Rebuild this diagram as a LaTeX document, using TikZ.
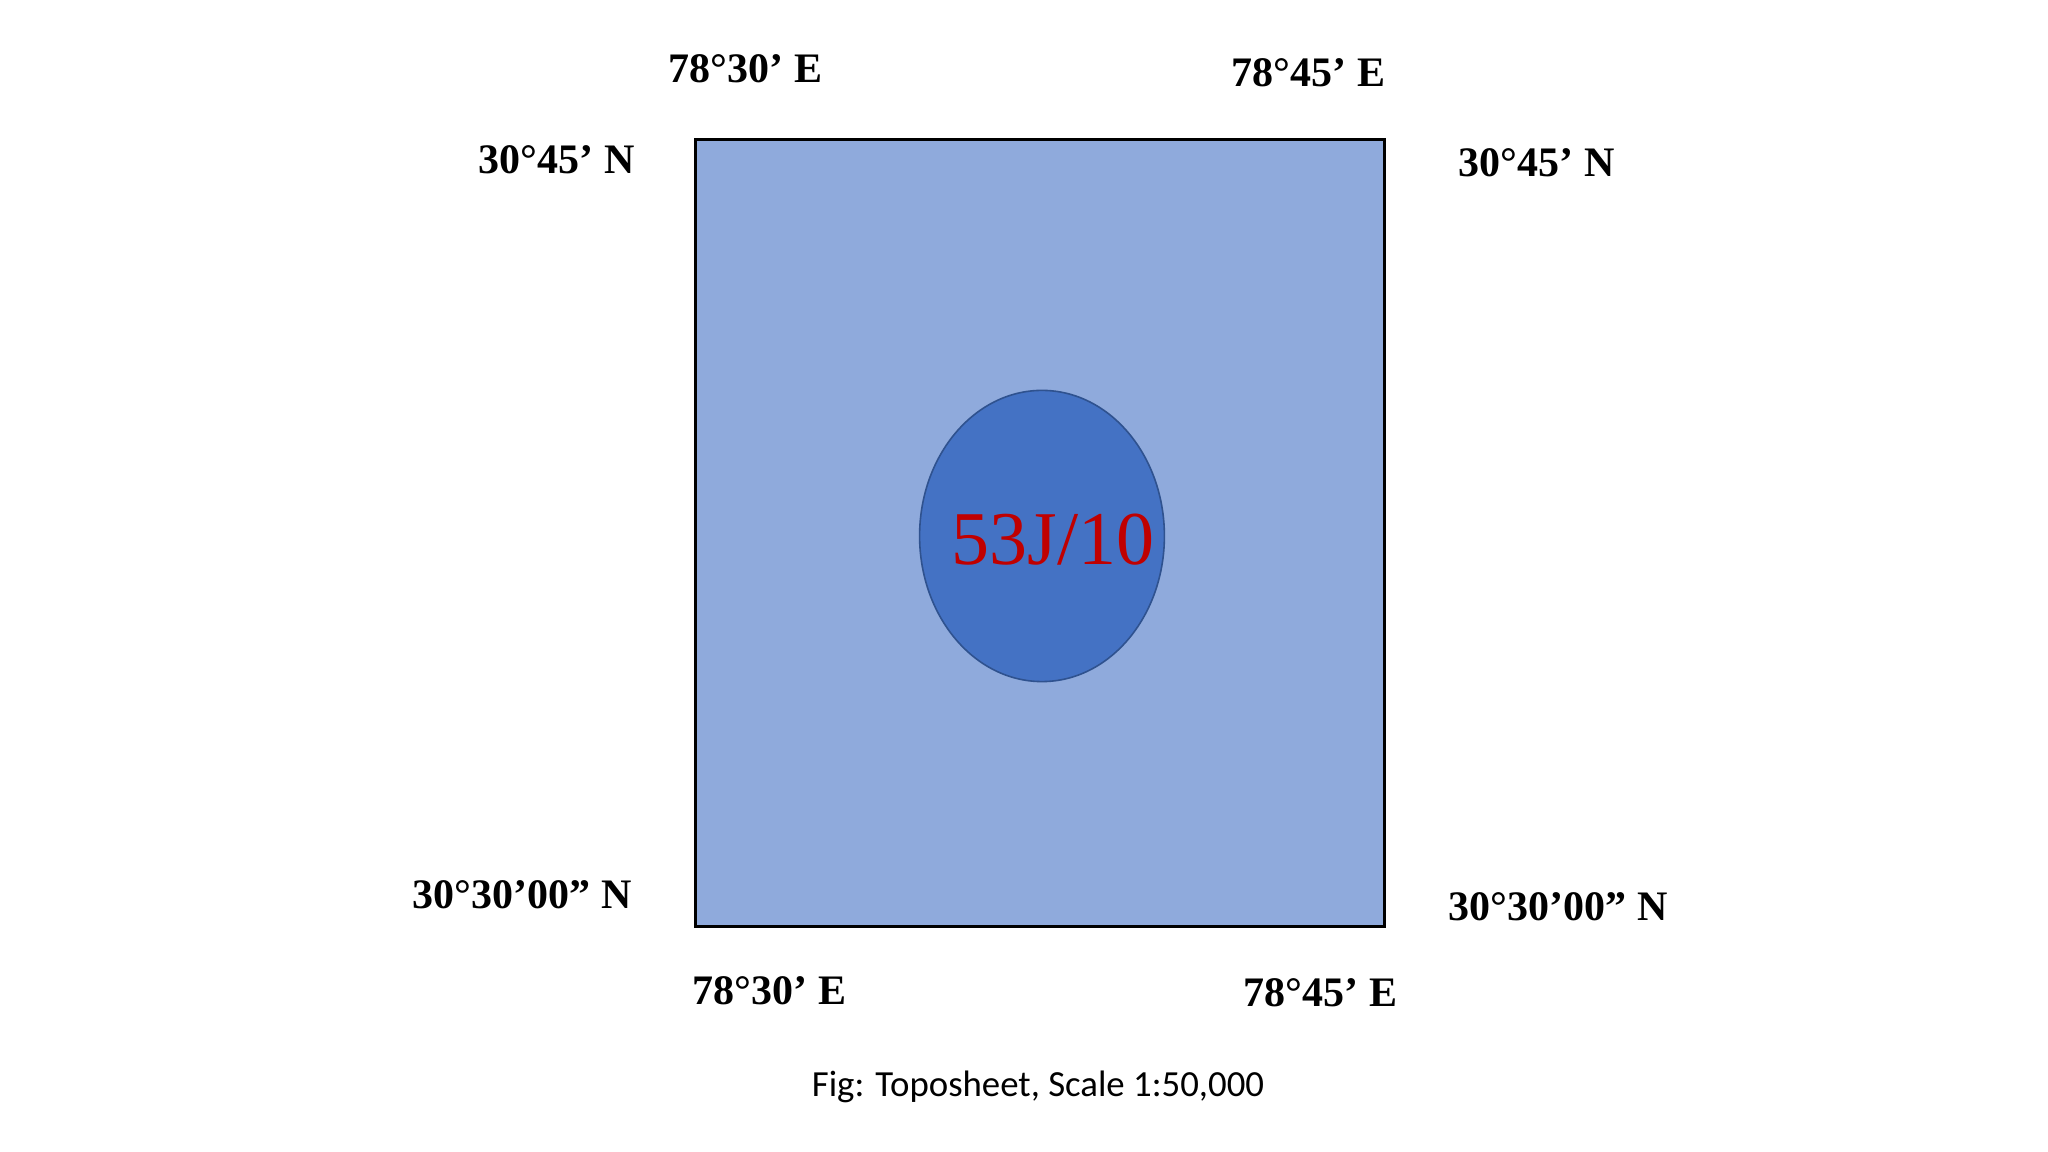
\documentclass[tikz,border=0pt]{standalone}
\usepackage{fontspec}
\setmainfont{Liberation Serif}
\newfontfamily\captionfont{Carlito}

\definecolor{sheetblue}{HTML}{8FAADC}
\definecolor{tileblue}{HTML}{4472C4}
\definecolor{tileedge}{HTML}{2F528F}
\definecolor{tilered}{HTML}{C00000}

\begin{document}
\begin{tikzpicture}[x=0.25pt,y=-0.25pt]
        \tikzstyle{coord} = [font=\fontsize{10.5}{12}\selectfont\bfseries, inner sep=0pt, anchor=base west]

        \useasboundingbox (0,0) rectangle (2048,1152);

        % the sheet itself
        \filldraw[color=black, fill=sheetblue, line width=0.75pt](695,140) rectangle (1384,927);

        % the oval round the sheet number
        \filldraw[color=tileedge, fill=tileblue, line width=0.4pt](1042,536) ellipse [x radius=30.6pt, y radius=36.4pt];
        \node[text=tilered, font=\fontsize{19}{22}\selectfont, inner sep=0pt, anchor=base] (tile) at (1053,565) {53J/10};

        % corner values, top
        \node[coord] (elong1) at (668,83) {78°30’ E};
        \node[coord] (elong2) at (1231,87) {78°45’ E};
        \node[coord] (nlat1) at (478,174) {30°45’ N};
        \node[coord] (nlat2) at (1458,177) {30°45’ N};

        % corner values, bottom
        \node[coord] (slat1) at (412,909) {30°30’00” N};
        \node[coord] (slat2) at (1448,921) {30°30’00” N};
        \node[coord] (wlong1) at (692,1005) {78°30’ E};
        \node[coord] (wlong2) at (1243,1007) {78°45’ E};

        % caption
        \node[font=\captionfont\fontsize{9.2}{11}\selectfont, anchor=base] (caption) at (1038,1097) {Fig: Toposheet, Scale 1:50,000};

\end{tikzpicture}
\end{document}
